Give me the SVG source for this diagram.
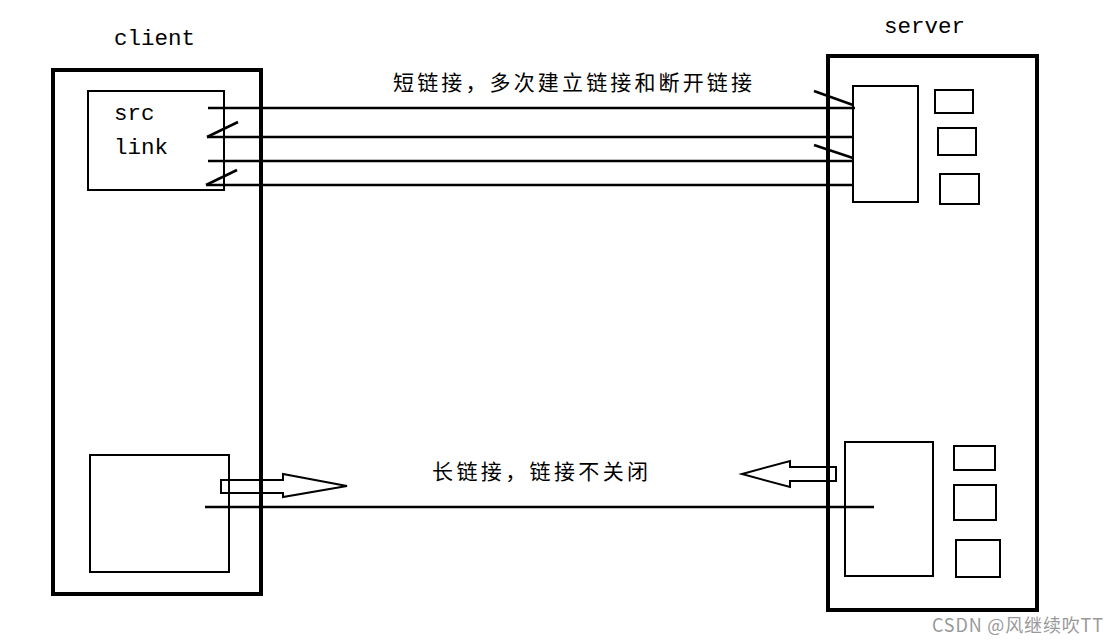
<svg xmlns="http://www.w3.org/2000/svg" width="1118" height="644" viewBox="0 0 1118 644">
<style>
.thick{fill:none;stroke:#000;stroke-width:4}
.thin{fill:none;stroke:#000;stroke-width:2}
.ln{stroke:#000;stroke-width:2.5;fill:none}
.mono{font-family:"Liberation Mono",monospace;font-size:22.5px;fill:#000}
.cn{font-family:"Noto Sans CJK SC",sans-serif;font-size:21px;fill:#000}
</style>
<rect width="1118" height="644" fill="#fff"/>
<g id="client">
<rect class="thick" x="53" y="70" width="208" height="524"/>
<text class="mono" x="114" y="45">client</text>
</g>
<g id="src-link">
<rect class="thin" x="88" y="91" width="136" height="99"/>
<text class="mono" x="114" y="120">src</text>
<text class="mono" x="114" y="154">link</text>
</g>
<g id="client-bottom"><rect class="thin" x="90" y="455" width="139" height="117"/></g>
<g id="server">
<rect class="thick" x="828" y="56" width="209" height="554"/>
<text class="mono" x="884" y="33">server</text>
</g>
<g id="server-top">
<rect class="thin" x="853" y="86" width="65" height="116"/>
<rect class="thin" x="935" y="90" width="38" height="23"/>
<rect class="thin" x="938" y="128" width="38" height="27"/>
<rect class="thin" x="940" y="174" width="39" height="30"/>
</g>
<g id="server-bottom">
<rect class="thin" x="845" y="442" width="88" height="134"/>
<rect class="thin" x="954" y="446" width="41" height="24"/>
<rect class="thin" x="954" y="485" width="42" height="35"/>
<rect class="thin" x="956" y="540" width="44" height="37"/>
</g>
<g id="connectors">
<line class="ln" x1="208" y1="108" x2="855" y2="108"/>
<line class="ln" x1="207" y1="137" x2="853" y2="137"/>
<line class="ln" x1="208" y1="161" x2="853" y2="161"/>
<line class="ln" x1="206" y1="185" x2="853" y2="185"/>
<line class="ln" x1="207" y1="137" x2="238" y2="122"/>
<line class="ln" x1="206" y1="185" x2="237" y2="170"/>
<line class="ln" x1="814" y1="91" x2="853" y2="105"/>
<line class="ln" x1="814" y1="145" x2="853" y2="158"/>
<line class="ln" x1="205" y1="507" x2="874" y2="507"/>
<polygon class="thin" points="221,480 283,480 283,474 347,486 283,497 283,493 221,493"/>
<polygon class="thin" points="836,467 790,467 790,461 742,474 790,487 790,481 836,481"/>
<text class="cn" x="393" y="90" textLength="359" lengthAdjust="spacing">短链接，多次建立链接和断开链接</text>
<text class="cn" x="432" y="479" textLength="216" lengthAdjust="spacing">长链接，链接不关闭</text>
</g>
<text x="932" y="632" textLength="171" style="font-family:'Noto Sans CJK SC',sans-serif;font-size:18px;fill:#999">CSDN @风继续吹TT</text>
</svg>
